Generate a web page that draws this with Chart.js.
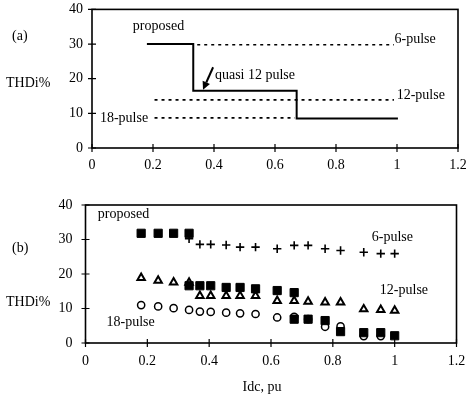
<!DOCTYPE html>
<html>
<head>
<meta charset="utf-8">
<script src="https://cdn.jsdelivr.net/npm/chart.js@4/dist/chart.umd.min.js"></script>
<style>
  html, body { margin: 0; padding: 0; background: #fff; }
  #wrap { position: relative; width: 474px; height: 399px; overflow: hidden; }
  canvas { position: absolute; left: 0; }
  #ca { top: 0; }
  #cb { top: 185px; }
</style>
</head>
<body>
<div id="wrap">
  <canvas id="ca" width="474" height="185"></canvas>
  <canvas id="cb" width="474" height="214"></canvas>
</div>
<script>
// ---------- DATA (panel a) ----------
const xTickLabels = ['0', '0.2', '0.4', '0.6', '0.8', '1', '1.2'];
const yTickLabels = ['0', '10', '20', '30', '40'];

const aProposedX = [0.18, 0.332, 0.671, 1.003];
const aProposedY = [30, 16.5, 8.5, 8.5];
const aSixX = [0.345, 0.99];
const aSixY = [29.8, 29.8];
const aTwelveX = [0.205, 0.99];
const aTwelveY = [13.9, 13.9];
const aEighteenX = [0.205, 0.665];
const aEighteenY = [8.7, 8.7];

// ---------- DATA (panel b) ----------
const bPropHighX = [0.18, 0.235, 0.285, 0.335];
const bPropHighY = [31.8, 31.8, 31.8, 31.8];
const bPropMidX = [0.335, 0.37, 0.405, 0.455, 0.5, 0.55, 0.62, 0.675];
const bPropMidY = [16.6, 16.6, 16.6, 16.1, 16.1, 15.7, 15.2, 14.6];
const bPropLowX = [0.675, 0.72, 0.775, 0.825, 0.9, 0.955, 1.0];
const bPropLowY = [6.9, 6.9, 6.5, 3.3, 3.0, 3.0, 2.1];

const bSixX = [0.335, 0.37, 0.405, 0.455, 0.5, 0.55, 0.62, 0.675, 0.72, 0.775, 0.825, 0.9, 0.955, 1.0];
const bSixY = [30.2, 28.6, 28.6, 28.4, 27.8, 27.8, 27.3, 28.3, 28.3, 27.3, 26.8, 26.3, 25.9, 25.9];

const bTwelveX = [0.18, 0.235, 0.285, 0.335, 0.37, 0.405, 0.455, 0.5, 0.55, 0.62, 0.675, 0.72, 0.775, 0.825, 0.9, 0.955, 1.0];
const bTwelveY = [18.9, 18.1, 17.6, 17.5, 13.7, 13.7, 13.7, 13.7, 13.7, 12.2, 12.2, 12.0, 11.8, 11.8, 9.8, 9.6, 9.4];

const bEighteenX = [0.18, 0.235, 0.285, 0.335, 0.37, 0.405, 0.455, 0.5, 0.55, 0.62, 0.675, 0.72, 0.775, 0.825, 0.9, 0.955];
const bEighteenY = [11.0, 10.6, 10.1, 9.6, 9.1, 9.0, 8.8, 8.6, 8.4, 7.4, 7.6, 6.9, 4.7, 4.8, 2.0, 2.0];

// ---------- text annotations (data coordinates) ----------
const aNotes = [
  { text: 'proposed', x: 0.134, y: 35.1 },
  { text: '6-pulse', x: 0.992, y: 31.3 },
  { text: 'quasi 12 pulse', x: 0.403, y: 21.0 },
  { text: '12-pulse', x: 0.999, y: 15.3 },
  { text: '18-pulse', x: 0.026, y: 8.5 }
];
const bNotes = [
  { text: 'proposed', x: 0.04, y: 37.2 },
  { text: '6-pulse', x: 0.926, y: 30.7 },
  { text: '12-pulse', x: 0.952, y: 15.4 },
  { text: '18-pulse', x: 0.068, y: 6.0 }
];
const aArrow = { fromX: 0.397, fromY: 23.3, toX: 0.364, toY: 16.8 };

const FONT = '"Liberation Serif", "Times New Roman", serif';

function pts(xs, ys) { return xs.map((x, i) => ({ x: x, y: ys[i] })); }

function decorPlugin(opts) {
  return {
    id: 'decor',
    afterDatasetsDraw(chart) {
      const ctx = chart.ctx;
      const a = chart.chartArea;
      const xs = chart.scales.x, ys = chart.scales.y;
      ctx.save();
      ctx.strokeStyle = '#000';
      ctx.lineWidth = 1.6;
      ctx.strokeRect(a.left, a.top, a.right - a.left, a.bottom - a.top);
      ctx.lineWidth = 1.2;
      ctx.beginPath();
      xs.ticks.forEach(t => {
        const px = xs.getPixelForValue(t.value);
        ctx.moveTo(px, a.bottom - 4); ctx.lineTo(px, a.bottom + 4);
      });
      ys.ticks.forEach(t => {
        const py = ys.getPixelForValue(t.value);
        ctx.moveTo(a.left - 4, py); ctx.lineTo(a.left + 4, py);
      });
      ctx.stroke();
      ctx.fillStyle = '#000';
      ctx.font = '14px ' + FONT;
      ctx.textBaseline = 'middle';
      ctx.textAlign = 'left';
      opts.notes.forEach(n => {
        ctx.fillText(n.text, xs.getPixelForValue(n.x), ys.getPixelForValue(n.y));
      });
      opts.side.forEach(s => {
        ctx.font = (s.size || 14) + 'px ' + FONT;
        ctx.textAlign = s.align || 'left';
        ctx.fillText(s.text, s.px, s.py);
      });
      if (opts.arrow) {
        const ar = opts.arrow;
        const x1 = xs.getPixelForValue(ar.fromX), y1 = ys.getPixelForValue(ar.fromY);
        const x2 = xs.getPixelForValue(ar.toX), y2 = ys.getPixelForValue(ar.toY);
        const ang = Math.atan2(y2 - y1, x2 - x1);
        const hl = 8, hw = 4;
        const bx = x2 - hl * Math.cos(ang), by = y2 - hl * Math.sin(ang);
        ctx.lineWidth = 2;
        ctx.beginPath(); ctx.moveTo(x1, y1); ctx.lineTo(bx, by); ctx.stroke();
        ctx.beginPath();
        ctx.moveTo(x2, y2);
        ctx.lineTo(bx + hw * Math.sin(ang), by - hw * Math.cos(ang));
        ctx.lineTo(bx - hw * Math.sin(ang), by + hw * Math.cos(ang));
        ctx.closePath(); ctx.fill();
      }
      ctx.restore();
    }
  };
}

function scales(cfg) {
  return {
    x: {
      type: 'linear', min: 0, max: 1.2,
      afterBuildTicks(s) { s.ticks = xTickLabels.map((l, i) => ({ value: i * 0.2 })); },
      afterFit(s) { s.height = cfg.xh; },
      grid: { display: false }, border: { display: false },
      ticks: { color: '#000', font: { family: FONT, size: 14 }, padding: cfg.xpad,
               maxRotation: 0, autoSkip: false,
               callback: (v, i) => xTickLabels[i] }
    },
    y: {
      type: 'linear', min: 0, max: 40,
      afterBuildTicks(s) { s.ticks = yTickLabels.map((l, i) => ({ value: i * 10 })); },
      afterFit(s) { s.width = cfg.yw; },
      grid: { display: false }, border: { display: false },
      ticks: { color: '#000', font: { family: FONT, size: 14 }, padding: cfg.ypad,
               callback: (v, i) => yTickLabels[i] }
    }
  };
}

const common = {
  responsive: false, animation: false, devicePixelRatio: 1,
  plugins: { legend: { display: false }, tooltip: { enabled: false } }
};

// ---------- Panel (a) ----------
const lineDs = (label, xs, ys, dash, extra) => Object.assign({
  label: label, data: pts(xs, ys), showLine: true, pointRadius: 0,
  borderColor: '#000', borderWidth: dash ? 1.6 : 2, borderDash: dash || [],
  fill: false, tension: 0
}, extra || {});

new Chart(document.getElementById('ca'), {
  type: 'scatter',
  data: {
    datasets: [
      lineDs('proposed', aProposedX, aProposedY, null, { stepped: 'before' }),
      lineDs('6-pulse', aSixX, aSixY, [3, 4]),
      lineDs('12-pulse', aTwelveX, aTwelveY, [3, 4]),
      lineDs('18-pulse', aEighteenX, aEighteenY, [3, 4])
    ]
  },
  options: Object.assign({}, common, {
    layout: { padding: { top: 9, right: 16, left: 0, bottom: 0 } },
    scales: scales({ xh: 37, yw: 92, xpad: 1, ypad: 1 })
  }),
  plugins: [decorPlugin({
    notes: aNotes, arrow: aArrow,
    side: [ { text: '(a)', px: 12, py: 36 }, { text: 'THDi%', px: 6, py: 83 } ]
  })]
});

// ---------- Panel (b) ----------
new Chart(document.getElementById('cb'), {
  type: 'scatter',
  data: {
    datasets: [
      { label: 'proposed', data: pts(bPropHighX, bPropHighY), pointStyle: 'rect', pointRadius: 5.8,
        backgroundColor: '#000', borderColor: '#000', borderWidth: 1, order: 0 },
      { label: 'proposed', data: pts(bPropMidX, bPropMidY), pointStyle: 'rect', pointRadius: 5.8,
        backgroundColor: '#000', borderColor: '#000', borderWidth: 1, order: 0 },
      { label: 'proposed', data: pts(bPropLowX, bPropLowY), pointStyle: 'rect', pointRadius: 5.8,
        backgroundColor: '#000', borderColor: '#000', borderWidth: 1, order: 0 },
      { label: '6-pulse', data: pts(bSixX, bSixY), pointStyle: 'cross', pointRadius: 4.2,
        backgroundColor: '#000', borderColor: '#000', borderWidth: 1.6, order: 1 },
      { label: '12-pulse', data: pts(bTwelveX, bTwelveY), pointStyle: 'triangle', pointRadius: 4.3,
        backgroundColor: '#fff', borderColor: '#000', borderWidth: 2, order: 2 },
      { label: '18-pulse', data: pts(bEighteenX, bEighteenY), pointStyle: 'circle', pointRadius: 3.6,
        backgroundColor: '#fff', borderColor: '#000', borderWidth: 1.5, order: 3 }
    ]
  },
  options: Object.assign({}, common, {
    layout: { padding: { top: 20, right: 17.5, left: 0, bottom: 0 } },
    scales: scales({ xh: 56, yw: 85.5, xpad: 2, ypad: 5 })
  }),
  plugins: [decorPlugin({
    notes: bNotes,
    side: [ { text: '(b)', px: 12, py: 63 }, { text: 'THDi%', px: 6, py: 117 },
            { text: 'Idc, pu', px: 262, py: 202, align: 'center' } ]
  })]
});
</script>
</body>
</html>
